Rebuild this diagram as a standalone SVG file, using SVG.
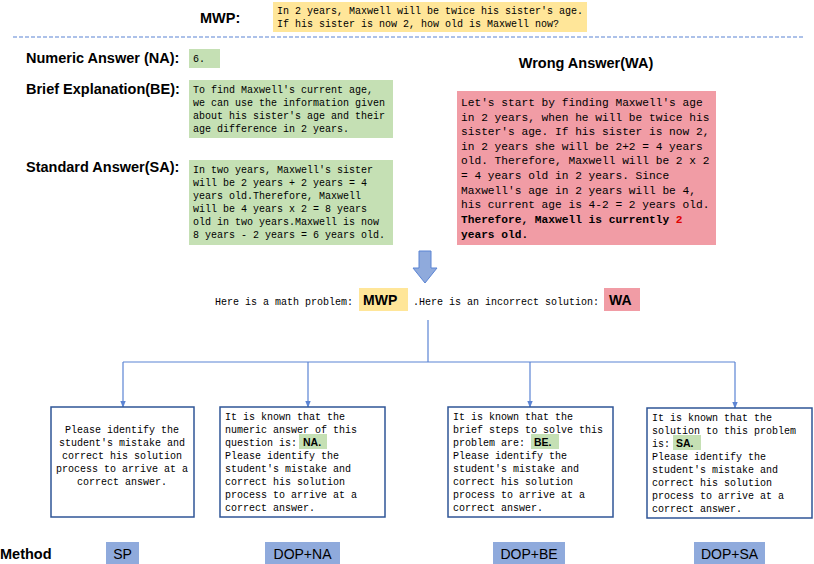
<svg xmlns="http://www.w3.org/2000/svg" width="814" height="564" viewBox="0 0 814 564">
<defs>
<style>
.lbl{font-family:"Liberation Sans",Arial,sans-serif;font-weight:bold;font-size:14.5px;fill:#000}
.m{font-family:"Liberation Mono","DejaVu Sans Mono",monospace;font-size:10px;fill:#000}
.mw{font-family:"Liberation Mono","DejaVu Sans Mono",monospace;font-size:11.2px;fill:#000}
.g{fill:#c5e0b4}
.y{fill:#ffe699}
.p{fill:#f19ca5}
.b{fill:#8faadc}
.node{fill:#fff;stroke:#2f5597;stroke-width:1.5}
.con{stroke:#5b84d4;stroke-width:1.2;fill:none}
.meth{font-family:"Liberation Sans",Arial,sans-serif;font-size:14px;fill:#000}
.hb{font-family:"Liberation Sans",Arial,sans-serif;font-weight:bold;fill:#000}
</style>
<marker id="ah" viewBox="0 0 10 10" refX="9" refY="5" markerWidth="6" markerHeight="6" orient="auto"><path d="M0,1 L10,5 L0,9 z" fill="#5b84d4"/></marker>
</defs>
<rect width="814" height="564" fill="#fff"/>
<g id="mwp">
<text class="lbl" x="200" y="23">MWP:</text>
<rect class="y" x="273" y="2" width="314" height="30"/>
<text class="m" x="277" y="14">In 2 years, Maxwell will be twice his sister's age.</text>
<text class="m" x="277" y="27">If his sister is now 2, how old is Maxwell now?</text>
</g>
<line x1="13" y1="37" x2="805" y2="37" stroke="#5b84d4" stroke-width="1.2" stroke-dasharray="4,2"/>
<g id="na">
<text class="lbl" x="26" y="63">Numeric Answer (NA):</text>
<rect class="g" x="189" y="49" width="31" height="19"/>
<text class="m" x="193" y="62">6.</text>
</g>
<g id="be">
<text class="lbl" x="26" y="94">Brief Explanation(BE):</text>
<rect class="g" x="189" y="80" width="204" height="58"/>
<text class="m" x="193" y="93">To find Maxwell's current age,</text>
<text class="m" x="193" y="106">we can use the information given</text>
<text class="m" x="193" y="119">about his sister's age and their</text>
<text class="m" x="193" y="132">age difference in 2 years.</text>
</g>
<g id="sa">
<text class="lbl" x="26" y="172">Standard Answer(SA):</text>
<rect class="g" x="189" y="160" width="204" height="85"/>
<text class="m" x="193" y="173">In two years, Maxwell's sister</text>
<text class="m" x="193" y="186">will be 2 years + 2 years = 4</text>
<text class="m" x="193" y="199">years old.Therefore, Maxwell</text>
<text class="m" x="193" y="212">will be 4 years x 2 = 8 years</text>
<text class="m" x="193" y="225">old in two years.Maxwell is now</text>
<text class="m" x="193" y="238">8 years - 2 years = 6 years old.</text>
</g>
<g id="wa">
<text class="lbl" x="586" y="68" text-anchor="middle">Wrong Answer(WA)</text>
<rect class="p" x="457" y="91" width="259" height="154"/>
<text class="mw" x="461" y="106">Let's start by finding Maxwell's age</text>
<text class="mw" x="461" y="121">in 2 years, when he will be twice his</text>
<text class="mw" x="461" y="135">sister's age. If his sister is now 2,</text>
<text class="mw" x="461" y="150">in 2 years she will be 2+2 = 4 years</text>
<text class="mw" x="461" y="164">old. Therefore, Maxwell will be 2 x 2</text>
<text class="mw" x="461" y="179">= 4 years old in 2 years. Since</text>
<text class="mw" x="461" y="194">Maxwell's age in 2 years will be 4,</text>
<text class="mw" x="461" y="208">his current age is 4-2 = 2 years old.</text>
<text class="mw" x="461" y="223" font-weight="bold">Therefore, Maxwell is currently <tspan fill="#e00000">2</tspan></text>
<text class="mw" x="461" y="238" font-weight="bold">years old.</text>
</g>
<g id="bigarrow">
<path d="M419,251 L431,251 L431,268 L437,268 L425,283 L413,268 L419,268 z" fill="#8faadc" stroke="#5b84d4" stroke-width="1"/>
</g>
<g id="prompt">
<text class="m" x="215" y="305">Here is a math problem:</text>
<rect class="y" x="359" y="288" width="49" height="23"/>
<text class="hb" x="363" y="305" font-size="14">MWP</text>
<text class="m" x="413" y="305">.Here is an incorrect solution:</text>
<rect class="p" x="604" y="288" width="36" height="23"/>
<text class="hb" x="609" y="305" font-size="14">WA</text>
</g>
<g id="connectors">
<line class="con" x1="428" y1="320" x2="428" y2="362"/>
<line class="con" x1="123" y1="362" x2="735" y2="362"/>
<line class="con" x1="123" y1="362" x2="123" y2="407" marker-end="url(#ah)"/>
<line class="con" x1="308" y1="362" x2="308" y2="407" marker-end="url(#ah)"/>
<line class="con" x1="530" y1="362" x2="530" y2="407" marker-end="url(#ah)"/>
<line class="con" x1="735" y1="362" x2="735" y2="408" marker-end="url(#ah)"/>
</g>
<g id="sp">
<rect class="node" x="51" y="407" width="143" height="110"/>
<g class="m" text-anchor="middle">
<text x="122" y="433">Please identify the</text>
<text x="122" y="446">student's mistake and</text>
<text x="122" y="459">correct his solution</text>
<text x="122" y="472">process to arrive at a</text>
<text x="122" y="485">correct answer.</text>
</g>
</g>
<g id="dopna">
<rect class="node" x="220" y="407" width="165" height="110"/>
<rect class="g" x="299" y="434" width="28" height="15"/>
<g class="m">
<text x="225" y="420">It is known that the</text>
<text x="225" y="433">numeric answer of this</text>
<text x="225" y="446">question is: <tspan class="hb" font-size="10.5">NA.</tspan></text>
<text x="225" y="459">Please identify the</text>
<text x="225" y="472">student's mistake and</text>
<text x="225" y="485">correct his solution</text>
<text x="225" y="498">process to arrive at a</text>
<text x="225" y="511">correct answer.</text>
</g>
</g>
<g id="dopbe">
<rect class="node" x="448" y="407" width="165" height="110"/>
<rect class="g" x="531" y="434" width="28" height="15"/>
<g class="m">
<text x="453" y="420">It is known that the</text>
<text x="453" y="433">brief steps to solve this</text>
<text x="453" y="446">problem are: <tspan class="hb" font-size="10.5" dx="3">BE.</tspan></text>
<text x="453" y="459">Please identify the</text>
<text x="453" y="472">student's mistake and</text>
<text x="453" y="485">correct his solution</text>
<text x="453" y="498">process to arrive at a</text>
<text x="453" y="511">correct answer.</text>
</g>
</g>
<g id="dopsa">
<rect class="node" x="647" y="408" width="165" height="110"/>
<rect class="g" x="673" y="435" width="28" height="15"/>
<g class="m">
<text x="652" y="421">It is known that the</text>
<text x="652" y="434">solution to this problem</text>
<text x="652" y="447">is: <tspan class="hb" font-size="10.5">SA.</tspan></text>
<text x="652" y="460">Please identify the</text>
<text x="652" y="473">student's mistake and</text>
<text x="652" y="486">correct his solution</text>
<text x="652" y="499">process to arrive at a</text>
<text x="652" y="512">correct answer.</text>
</g>
</g>
<g id="methods">
<text class="lbl" x="0" y="559">Method</text>
<rect class="b" x="106" y="542" width="33" height="22"/>
<text class="meth" x="122.5" y="559" text-anchor="middle">SP</text>
<rect class="b" x="265" y="542" width="75" height="22"/>
<text class="meth" x="302.5" y="559" text-anchor="middle">DOP+NA</text>
<rect class="b" x="493" y="542" width="72" height="22"/>
<text class="meth" x="529" y="559" text-anchor="middle">DOP+BE</text>
<rect class="b" x="694" y="542" width="71" height="22"/>
<text class="meth" x="729.5" y="559" text-anchor="middle">DOP+SA</text>
</g>
</svg>
